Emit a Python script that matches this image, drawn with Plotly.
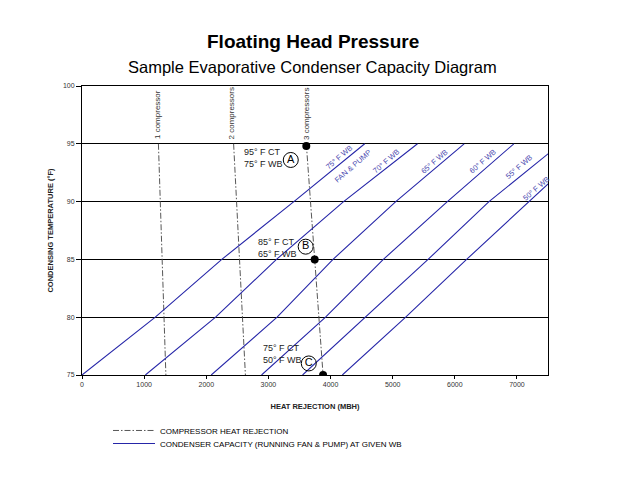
import plotly.graph_objects as go

# ---------------- data ----------------
cond_temps = [75, 80, 85, 90, 95]          # condensing temperature (°F)
wb_labels = ["75° F WB", "70° F WB", "65° F WB", "60° F WB", "55° F WB", "50° F WB"]
wb_75 = [0, 1180, 2250, 3410, 4550]
wb_70 = [1020, 2150, 3130, 4210, 5400]
wb_65 = [2080, 3140, 4040, 5050, 6150]
wb_60 = [2890, 3920, 4850, 5880, 6950]
wb_55 = [3550, 4560, 5570, 6550, 7700]
wb_50 = [4190, 5210, 6190, 7190, 8200]
wb_series = [wb_75, wb_70, wb_65, wb_60, wb_55, wb_50]

comp_temps = [95, 85, 75]
comp_labels = ["1 compressor", "2 compressors", "3 compressors"]
comp_1 = [1230, 1285, 1350]
comp_2 = [2440, 2530, 2630]
comp_3 = [3610, 3745, 3880]
comp_series = [comp_1, comp_2, comp_3]
comp_label_x = [1225, 2410, 3610]
comp_label_y = [97.5, 97.6, 97.6]

# operating points (A, B, C)
pt_x = [3610, 3745, 3880]
pt_y = [94.8, 85.0, 75.0]
circ_labels = ["A", "B", "C"]
circ_x = [3360, 3600, 3650]
circ_y = [93.6, 86.1, 76.0]
cond_text = ["95° F CT<br>75° F WB", "85° F CT<br>65° F WB", "75° F CT<br>50° F WB"]
cond_text_x = [2575, 2806, 2880]
cond_text_y = [93.73, 85.99, 76.83]

# WB label positions
wb_lab_text = ["75° F WB", "FAN & PUMP", "70° F WB", "65° F WB", "60° F WB", "55° F WB", "50° F WB"]
wb_lab_x = [4135, 4350, 4890, 5670, 6450, 7040, 7310]
wb_lab_y = [93.83, 93.08, 93.51, 93.51, 93.45, 93.02, 91.15]

x_ticks = [0, 1000, 2000, 3000, 4000, 5000, 6000, 7000]
y_ticks = [75, 80, 85, 90, 95, 100]

BLUE = "#2626a8"
FONT = "Liberation Sans, Arial, sans-serif"

fig = go.Figure()

for i, s in enumerate(comp_series):
    fig.add_trace(go.Scatter(
        x=s, y=comp_temps, mode="lines",
        line=dict(color="#444444", width=0.9, dash="6px,2px,1.5px,2px"),
        name="COMPRESSOR HEAT REJECTION", legendgroup="comp",
        showlegend=(i == 0), legend="legend", hoverinfo="skip"))

for i, s in enumerate(wb_series):
    fig.add_trace(go.Scatter(
        x=s, y=cond_temps, mode="lines",
        line=dict(color=BLUE, width=1.1),
        name="CONDENSER CAPACITY (RUNNING FAN & PUMP) AT GIVEN WB",
        legendgroup="cond", showlegend=(i == 0), legend="legend2",
        hoverinfo="skip"))

fig.add_trace(go.Scatter(
    x=pt_x, y=pt_y, mode="markers",
    marker=dict(color="black", size=8), showlegend=False, hoverinfo="skip"))

fig.add_trace(go.Scatter(
    x=circ_x, y=circ_y, mode="markers+text", text=circ_labels,
    textposition="middle center",
    textfont=dict(family=FONT, size=11, color="black"),
    marker=dict(symbol="circle-open", size=15, color="black", line=dict(width=1)),
    showlegend=False, hoverinfo="skip"))

annotations = []
for t, x, y in zip(cond_text, cond_text_x, cond_text_y):
    annotations.append(dict(x=x, y=y, xref="x", yref="y", text=t, showarrow=False,
                            xanchor="left", yanchor="middle", align="left",
                            font=dict(family=FONT, size=9, color="#222222")))
for t, x, y in zip(comp_labels, comp_label_x, comp_label_y):
    annotations.append(dict(x=x, y=y, xref="x", yref="y", text=t, showarrow=False,
                            textangle=-90, font=dict(family=FONT, size=8, color="#333333")))
for t, x, y in zip(wb_lab_text, wb_lab_x, wb_lab_y):
    annotations.append(dict(x=x, y=y, xref="x", yref="y", text=t, showarrow=False,
                            textangle=-41, font=dict(family=FONT, size=7.5, color="#4a4ab0")))

annotations.append(dict(x=0.4957, y=1.1557, xref="paper", yref="paper",
                        text="<b>Floating Head Pressure</b>", showarrow=False,
                        xanchor="center", yanchor="middle",
                        font=dict(family=FONT, size=19, color="black")))
annotations.append(dict(x=0.4957, y=1.0657, xref="paper", yref="paper",
                        text="Sample Evaporative Condenser Capacity Diagram", showarrow=False,
                        xanchor="center", yanchor="middle",
                        font=dict(family=FONT, size=16.5, color="black")))

fig.update_layout(
    width=638, height=479,
    margin=dict(l=82, r=90, t=86, b=104, autoexpand=False),
    paper_bgcolor="white", plot_bgcolor="white",
    font=dict(family=FONT, color="#333333"),
    annotations=annotations,
    legend=dict(x=0.0558, y=-0.1418, xanchor="left", yanchor="top", itemwidth=42,
                font=dict(family=FONT, size=8, color="black"), bgcolor="rgba(0,0,0,0)"),
    legend2=dict(x=0.0558, y=-0.1868, xanchor="left", yanchor="top", itemwidth=42,
                 font=dict(family=FONT, size=8, color="black"), bgcolor="rgba(0,0,0,0)"),
)

fig.update_xaxes(
    range=[0, 7500], tickvals=x_ticks, ticktext=[str(v) for v in x_ticks],
    tickangle=0,
    showgrid=False, zeroline=False, showline=True, linecolor="black", linewidth=1,
    mirror=True, ticks="outside", ticklen=3, tickcolor="black",
    tickfont=dict(family=FONT, size=7, color="#333333"),
    title=dict(text="<b>HEAT REJECTION (MBH)</b>", standoff=16,
               font=dict(family=FONT, size=7.5, color="#222222")))
fig.update_yaxes(
    range=[75, 100], tickvals=y_ticks, ticktext=[str(v) for v in y_ticks],
    showgrid=True, gridcolor="black", gridwidth=1, zeroline=False,
    showline=True, linecolor="black", linewidth=1, mirror=True,
    ticks="outside", ticklen=5, tickcolor="black",
    tickfont=dict(family=FONT, size=7, color="#333333"),
    title=dict(text="<b>CONDENSING TEMPERATURE (°F)</b>", standoff=8,
               font=dict(family=FONT, size=7.5, color="#222222")))

fig.write_html("out.html")
